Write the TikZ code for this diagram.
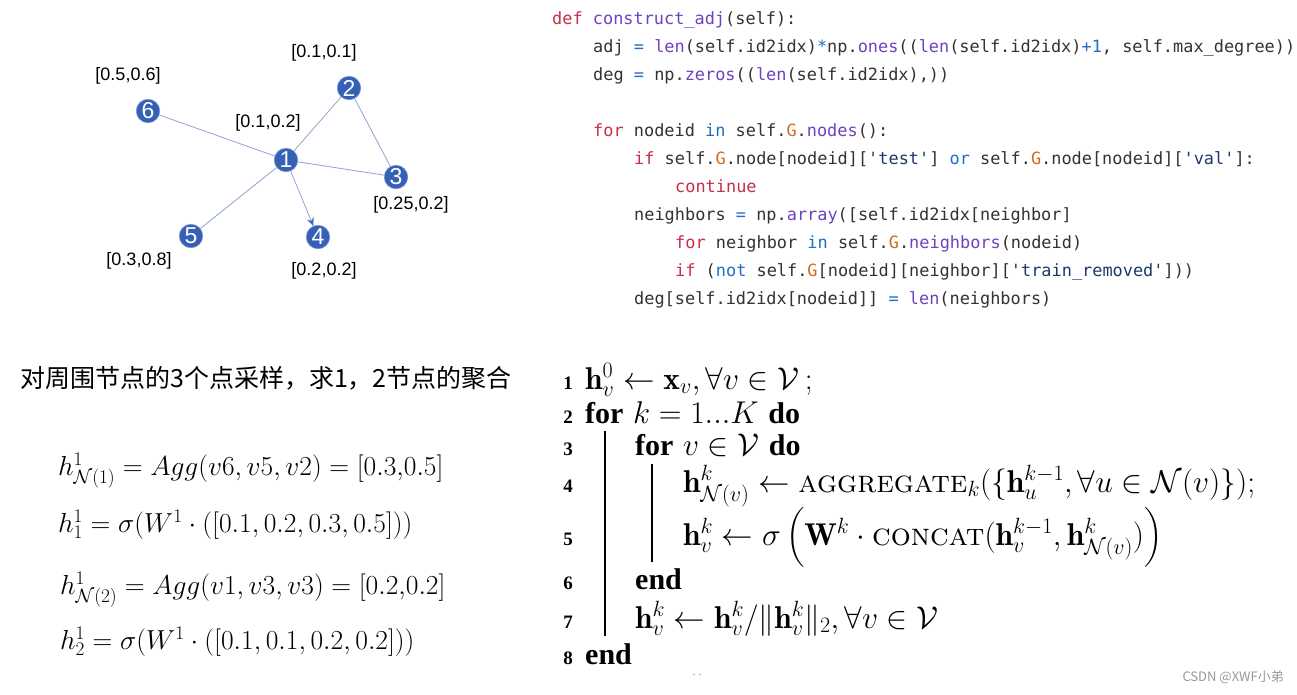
\RequirePackage{fix-cm}
\documentclass[tikz,border=0pt]{standalone}
\usepackage{amsmath}
\usepackage{fontspec}
\setmonofont{DejaVu Sans Mono}
\newfontfamily\cjk{Noto Sans CJK SC}
\newfontfamily\arial{Liberation Sans}
\newfontfamily\tms{Liberation Serif}
\usetikzlibrary{arrows.meta}
\definecolor{pykw}{HTML}{C5304A}
\definecolor{pyfn}{HTML}{6F42C1}
\definecolor{pyop}{HTML}{1F6FC5}
\definecolor{pystr}{HTML}{1B3A6B}
\definecolor{pyG}{HTML}{D2691E}
\definecolor{codetext}{HTML}{333333}
\definecolor{nodeblue}{HTML}{3560B6}
\definecolor{noderim}{HTML}{7B97D2}
\definecolor{edgeblue}{HTML}{8EA5CF}
\definecolor{arrowblue}{HTML}{4169BA}
\newcommand\pyk[1]{\textcolor{pykw}{#1}}
\newcommand\pyf[1]{\textcolor{pyfn}{#1}}
\newcommand\pyo[1]{\textcolor{pyop}{#1}}
\newcommand\pys[1]{\textcolor{pystr}{#1}}
\newcommand\pyg[1]{\textcolor{pyG}{#1}}
\newcommand\algkw[1]{{\tms\bfseries\fontsize{30}{34}\selectfont #1}}
\begin{document}
\begin{tikzpicture}[x=1pt,y=-1pt,
  gnode/.style={circle, fill=nodeblue, draw=noderim, line width=0.6pt, minimum size=23.5pt, inner sep=0pt, text=white, font=\arial\fontsize{23}{23}\selectfont},
  glabel/.style={inner sep=0pt, font=\arial\fontsize{18}{20}\selectfont},
  gedge/.style={draw=edgeblue, line width=0.8pt},
  codeline/.style={anchor=base west, inner sep=0pt, text=codetext, font=\ttfamily\fontsize{16.9}{20}\selectfont},
  eqline/.style={anchor=base west, inner sep=0pt, font=\fontsize{27.5}{30}\selectfont},
  algline/.style={anchor=base west, inner sep=0pt, font=\fontsize{31.5}{34}\selectfont},
  lnum/.style={anchor=base, inner sep=0pt, font=\tms\bfseries\fontsize{19}{20}\selectfont},
  rule/.style={line width=1.3pt, draw=black}]
\useasboundingbox (0,0) rectangle (1297,694);
\fill[white] (0,0) rectangle (1297,694);

% graph
\node[gnode] (n1) at (286,160) {1};
\node[gnode] (n2) at (349,88) {2};
\node[gnode] (n3) at (396,177) {3};
\node[gnode] (n4) at (318,237) {4};
\node[gnode] (n5) at (191,236) {5};
\node[gnode] (n6) at (148,111) {6};
\draw[gedge] (n6) -- (n1);
\draw[gedge] (n1) -- (n2);
\draw[gedge] (n2) -- (n3);
\draw[gedge] (n1) -- (n3);
\draw[gedge] (n1) -- (n5);
\draw[gedge, -{Stealth[length=8pt,width=7pt,color=arrowblue]}] (n1) -- (n4);
\node[glabel] (l6) at (128,76) {[0.5,0.6]};
\node[glabel] (l2) at (324,53) {[0.1,0.1]};
\node[glabel] (l1) at (268,123) {[0.1,0.2]};
\node[glabel] (l3) at (411,205) {[0.25,0.2]};
\node[glabel] (l5) at (139,261) {[0.3,0.8]};
\node[glabel] (l4) at (324,271) {[0.2,0.2]};

% code
\node[codeline] (c0) at (552,24) {\pyk{def} \pyf{construct\_adj}(self):};
\node[codeline] (c1) at (593,52) {adj \pyo{=} \pyf{len}(self.id2idx)\pyo{*}np.\pyf{ones}((\pyf{len}(self.id2idx)\pyo{+1}, self.max\_degree))};
\node[codeline] (c2) at (593,80) {deg \pyo{=} np.\pyf{zeros}((\pyf{len}(self.id2idx),))};
\node[codeline] (c4) at (593,136) {\pyk{for} nodeid \pyo{in} self.\pyg{G}.\pyf{nodes}():};
\node[codeline] (c5) at (634,164) {\pyk{if} self.\pyg{G}.node[nodeid][\pys{'test'}] \pyo{or} self.\pyg{G}.node[nodeid][\pys{'val'}]:};
\node[codeline] (c6) at (675,192) {\pyk{continue}};
\node[codeline] (c7) at (634,220) {neighbors \pyo{=} np.\pyf{array}([self.id2idx[neighbor]};
\node[codeline] (c8) at (675,248) {\pyk{for} neighbor \pyo{in} self.\pyg{G}.\pyf{neighbors}(nodeid)};
\node[codeline] (c9) at (675,276) {\pyk{if} (\pyo{not} self.\pyg{G}[nodeid][neighbor][\pys{'train\_removed'}]))};
\node[codeline] (c10) at (634,304) {deg[self.id2idx[nodeid]] \pyo{=} \pyf{len}(neighbors)};

% chinese title
\node[anchor=west, inner sep=0pt, font=\cjk\fontsize{25}{28}\selectfont] (title) at (20,378) {对周围节点的3个点采样，求1，2节点的聚合};

% left equations
\node[eqline] (e1) at (58,475) {$h^1_{\mathcal{N}(1)} = Agg(v6,v5,v2) = [0.3{,}0.5]$};
\node[eqline] (e2) at (58,532) {$h^1_1 = \sigma(W^1\cdot([0.1,0.2,0.3,0.5]))$};
\node[eqline] (e3) at (60,594) {$h^1_{\mathcal{N}(2)} = Agg(v1,v3,v3) = [0.2{,}0.2]$};
\node[eqline] (e4) at (60,649) {$h^1_2 = \sigma(W^1\cdot([0.1,0.1,0.2,0.2]))$};

% algorithm
\node[lnum] (ln1) at (568,389) {1};
\node[lnum] (ln2) at (568,423) {2};
\node[lnum] (ln3) at (568,455) {3};
\node[lnum] (ln4) at (568,492) {4};
\node[lnum] (ln5) at (568,545) {5};
\node[lnum] (ln6) at (568,589) {6};
\node[lnum] (ln7) at (568,628) {7};
\node[lnum] (ln8) at (568,664) {8};
\node[algline] (a1) at (585,389) {$\mathbf{h}^0_v \leftarrow \mathbf{x}_v, \forall v\in\mathcal{V}$\,;};
\node[algline] (a2) at (585,423) {\algkw{for} $k=1...K$ \algkw{do}};
\node[algline] (a3) at (635,455) {\algkw{for} $v\in\mathcal{V}$ \algkw{do}};
\node[algline] (a4) at (683,492) {$\mathbf{h}^k_{\mathcal{N}(v)} \leftarrow \textsc{aggregate}_k(\{\mathbf{h}^{k-1}_u, \forall u\in\mathcal{N}(v)\});$};
\node[algline] (a5) at (683,545) {$\mathbf{h}^k_v \leftarrow \sigma\,\Bigl(\mathbf{W}^k\cdot\textsc{concat}(\mathbf{h}^{k-1}_v, \mathbf{h}^k_{\mathcal{N}(v)})\Bigr)$};
\node[algline] (a6) at (635,589) {\algkw{end}};
\node[algline] (a7) at (635,628) {$\mathbf{h}^k_v \leftarrow \mathbf{h}^k_v/\|\mathbf{h}^k_v\|_2, \forall v\in\mathcal{V}$};
\node[algline] (a8) at (585,664) {\algkw{end}};
\draw[rule] (605,431) -- (605,636);
\draw[rule] (652,464) -- (652,562);

% marks
\node[inner sep=0pt, text=gray!70, font=\arial\fontsize{10}{12}\selectfont] (dash) at (697,676) {- -};
\node[anchor=east, inner sep=0pt, text=gray!80, font=\cjk\fontsize{13}{15}\selectfont] (wm) at (1284,677) {CSDN @XWF小弟};
\end{tikzpicture}
\end{document}
